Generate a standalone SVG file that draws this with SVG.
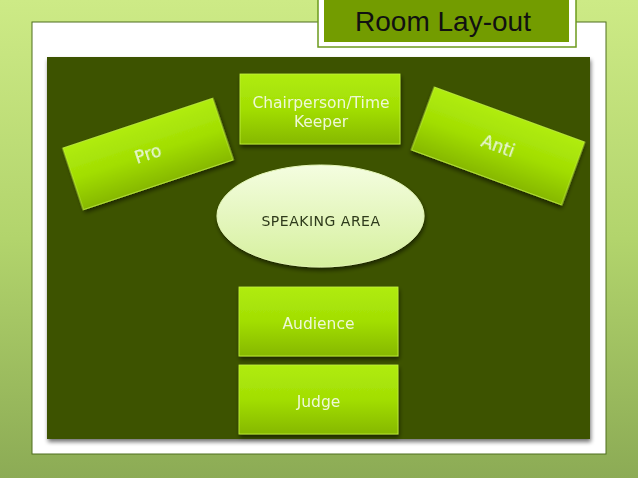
<svg xmlns="http://www.w3.org/2000/svg" width="638" height="478" viewBox="0 0 638 478">
<defs>
<linearGradient id="bg" x1="0" y1="0" x2="0" y2="1">
<stop offset="0" stop-color="#cdea86"/>
<stop offset="0.5" stop-color="#b2d46c"/>
<stop offset="1" stop-color="#8cab55"/>
</linearGradient>
<linearGradient id="box" x1="0" y1="0" x2="0" y2="1">
<stop offset="0" stop-color="#b0ec0c"/>
<stop offset="0.5" stop-color="#a2de04"/>
<stop offset="1" stop-color="#86b800"/>
</linearGradient>
<linearGradient id="ell" x1="0" y1="0" x2="0" y2="1">
<stop offset="0" stop-color="#f4fde0"/>
<stop offset="1" stop-color="#d6f09e"/>
</linearGradient>
<filter id="sh" x="-20%" y="-20%" width="140%" height="150%">
<feGaussianBlur in="SourceAlpha" stdDeviation="2"/>
<feOffset dx="1" dy="3" result="b"/>
<feComponentTransfer><feFuncA type="linear" slope="0.55"/></feComponentTransfer>
<feMerge><feMergeNode/><feMergeNode in="SourceGraphic"/></feMerge>
</filter>
</defs>
<style>
.lbl{font-family:"DejaVu Sans","Open Sans",sans-serif;font-size:15.5px;fill:#eef8d6;text-anchor:middle}
.bx{fill:url(#box);stroke:#c4f340;stroke-width:0.8}
</style>
<rect width="638" height="478" fill="url(#bg)"/>
<rect x="32" y="22" width="574" height="432" fill="#ffffff" stroke="#4e6e1e" stroke-width="1"/>
<rect x="47" y="57" width="543" height="382" fill="#3e5306" filter="url(#sh)"/>
<g id="title">
<rect x="318" y="-2" width="258" height="49" fill="#ffffff" stroke="#6c9a1c" stroke-width="1.5"/>
<rect x="324" y="-2" width="245" height="44" fill="#739c00"/>
<text x="443" y="31" font-family="Liberation Sans, Arial, sans-serif" font-size="28" fill="#111" text-anchor="middle">Room Lay-out</text>
</g>
<g id="connectors"></g>
<g id="chair" filter="url(#sh)">
<rect class="bx" x="240" y="74" width="160" height="70"/>
<text class="lbl" x="321" y="108">Chairperson/Time</text>
<text class="lbl" x="321" y="127">Keeper</text>
</g>
<g id="pro" filter="url(#sh)" transform="translate(148,154) rotate(-18.4)">
<rect class="bx" x="-79" y="-32.5" width="158" height="65"/>
<text class="lbl" x="0" y="6" style="font-size:17px">Pro</text>
</g>
<g id="anti" filter="url(#sh)" transform="translate(498,146) rotate(20.1)">
<rect class="bx" x="-80" y="-33.5" width="160" height="67"/>
<text class="lbl" x="0" y="6" style="font-size:17px">Anti</text>
</g>
<g id="speaking" filter="url(#sh)">
<ellipse cx="320.5" cy="216" rx="103.5" ry="51" fill="url(#ell)" stroke="#e6f8b8" stroke-width="1"/>
<text x="321" y="226" font-family="DejaVu Sans, sans-serif" font-size="14" letter-spacing="0.5" fill="#2e3a1a" text-anchor="middle">SPEAKING AREA</text>
</g>
<g id="audience" filter="url(#sh)">
<rect class="bx" x="239" y="287" width="159" height="69"/>
<text class="lbl" x="318.5" y="329">Audience</text>
</g>
<g id="judge" filter="url(#sh)">
<rect class="bx" x="239" y="365" width="159" height="69"/>
<text class="lbl" x="318.5" y="407">Judge</text>
</g>
</svg>
